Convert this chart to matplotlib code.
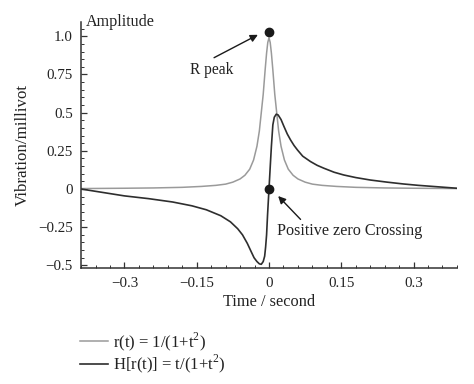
import matplotlib
matplotlib.use("Agg")
import matplotlib.pyplot as plt
from matplotlib.ticker import MultipleLocator

plt.rcParams['font.family'] = ['Liberation Serif', 'DejaVu Serif']
plt.rcParams['mathtext.fontset'] = 'custom'
plt.rcParams['mathtext.rm'] = 'Liberation Serif'

# values
t_r = [-0.39, -0.30, -0.24, -0.18, -0.14, -0.11, -0.09, -0.075, -0.06, -0.05,
       -0.04, -0.032, -0.025, -0.02, -0.016, -0.012, -0.008, -0.005, -0.0025, 0.0,
       0.0025, 0.005, 0.008, 0.012, 0.016, 0.02, 0.025, 0.032, 0.04, 0.05,
       0.06, 0.075, 0.09, 0.11, 0.14, 0.18, 0.24, 0.30, 0.39]
r_vals = [0.003, 0.005, 0.007, 0.011, 0.017, 0.024, 0.032, 0.045, 0.066, 0.09,
          0.13, 0.19, 0.28, 0.38, 0.50, 0.62, 0.78, 0.89, 0.96, 0.99,
          0.96, 0.89, 0.78, 0.62, 0.50, 0.38, 0.28, 0.19, 0.13, 0.09,
          0.066, 0.045, 0.032, 0.024, 0.017, 0.011, 0.007, 0.005, 0.003]

t_h = [-0.39, -0.35, -0.30, -0.25, -0.20, -0.16, -0.13, -0.10, -0.08, -0.065,
       -0.055, -0.045, -0.037, -0.031, -0.025, -0.02, -0.016, -0.012, -0.009, -0.007,
       -0.005, -0.003, 0.0, 0.003, 0.005, 0.008, 0.011, 0.015, 0.019, 0.025,
       0.031, 0.038, 0.045, 0.052, 0.059, 0.07, 0.086, 0.10, 0.114, 0.135,
       0.155, 0.18, 0.21, 0.245, 0.279, 0.31, 0.348, 0.39]
h_vals = [0.0, -0.02, -0.045, -0.063, -0.085, -0.11, -0.136, -0.175, -0.215, -0.26,
          -0.30, -0.356, -0.41, -0.45, -0.475, -0.49, -0.493, -0.475, -0.44, -0.38,
          -0.30, -0.17, 0.0, 0.17, 0.28, 0.42, 0.47, 0.49, 0.485, 0.455,
          0.41, 0.36, 0.32, 0.285, 0.256, 0.215, 0.18, 0.155, 0.136, 0.11,
          0.092, 0.075, 0.059, 0.045, 0.033, 0.024, 0.015, 0.005]

peak_pt = (0.0, 1.03)
zero_pt = (0.0, 0.0)

xticks = [-0.3, -0.15, 0, 0.15, 0.3]
xticklabels = ['\u22120.3', '\u22120.15', '0', '0.15', '0.3']
yticks = [-0.5, -0.25, 0, 0.25, 0.5, 0.75, 1.0]
yticklabels = ['\u22120.5', '\u22120.25', '0', '0.25', '0.5', '0.75', '1.0']

fig = plt.figure(figsize=(4.74, 3.84), dpi=100)
ax = fig.add_axes([0.171, 0.301, 0.794, 0.643])

ax.plot(t_r, r_vals, color='#9a9a9a', lw=1.1,
        label=r'r(t) = 1/(1+t$^{\mathrm{2}}$)')
ax.plot(t_h, h_vals, color='#2e2e2e', lw=1.2,
        label=r'H[r(t)] = t/(1+t$^{\mathrm{2}}$)')
ax.plot(*peak_pt, 'o', color='#1a1a1a', ms=6, zorder=5)
ax.plot(*zero_pt, 'o', color='#1a1a1a', ms=6, zorder=5)

ax.set_xlim(-0.39, 0.391)
ax.set_ylim(-0.52, 1.097)

for s in ['top', 'right']:
    ax.spines[s].set_visible(False)
for s in ['left', 'bottom']:
    ax.spines[s].set_color('#333333')
    ax.spines[s].set_linewidth(1.1)

ax.set_xticks(xticks)
ax.set_xticklabels(xticklabels)
ax.set_yticks(yticks)
ax.set_yticklabels(yticklabels)
ax.xaxis.set_minor_locator(MultipleLocator(0.03))
ax.yaxis.set_minor_locator(MultipleLocator(0.05))
ax.tick_params(which='major', direction='in', length=4, width=0.9,
               color='#333333', labelsize=10.8, labelcolor='#222222', pad=6)
ax.tick_params(which='minor', direction='in', length=2, width=0.7, color='#333333')

ax.set_xlabel('Time / second', fontsize=11.8, color='#222222', labelpad=3)
ax.set_ylabel('Vibration/millivot', fontsize=12.2, color='#222222', labelpad=5)
ax.text(0.012, 1.0, 'Amplitude', transform=ax.transAxes, fontsize=11.6,
        color='#222222', va='center', ha='left')

ax.annotate('', xy=(-0.023, 1.01), xytext=(-0.114, 0.86),
            arrowprops=dict(arrowstyle='-|>', color='#1a1a1a', lw=1.0,
                            mutation_scale=11, shrinkA=0, shrinkB=0))
ax.text(-0.118, 0.78, 'R peak', fontsize=11.2, color='#222222',
        ha='center', va='center')

ax.annotate('', xy=(0.019, -0.046), xytext=(0.0655, -0.199),
            arrowprops=dict(arrowstyle='-|>', color='#1a1a1a', lw=1.0,
                            mutation_scale=11, shrinkA=0, shrinkB=0))
ax.text(0.017, -0.273, 'Positive zero Crossing', fontsize=11.6,
        color='#222222', ha='left', va='center')

ax.legend(loc='upper left', bbox_to_anchor=(0.169, 0.14),
          bbox_transform=fig.transFigure, frameon=False, fontsize=12,
          handlelength=1.65, handletextpad=0.35, labelspacing=0.0,
          borderpad=0, borderaxespad=0, labelcolor='#222222')

fig.savefig('out.png', dpi=100)
